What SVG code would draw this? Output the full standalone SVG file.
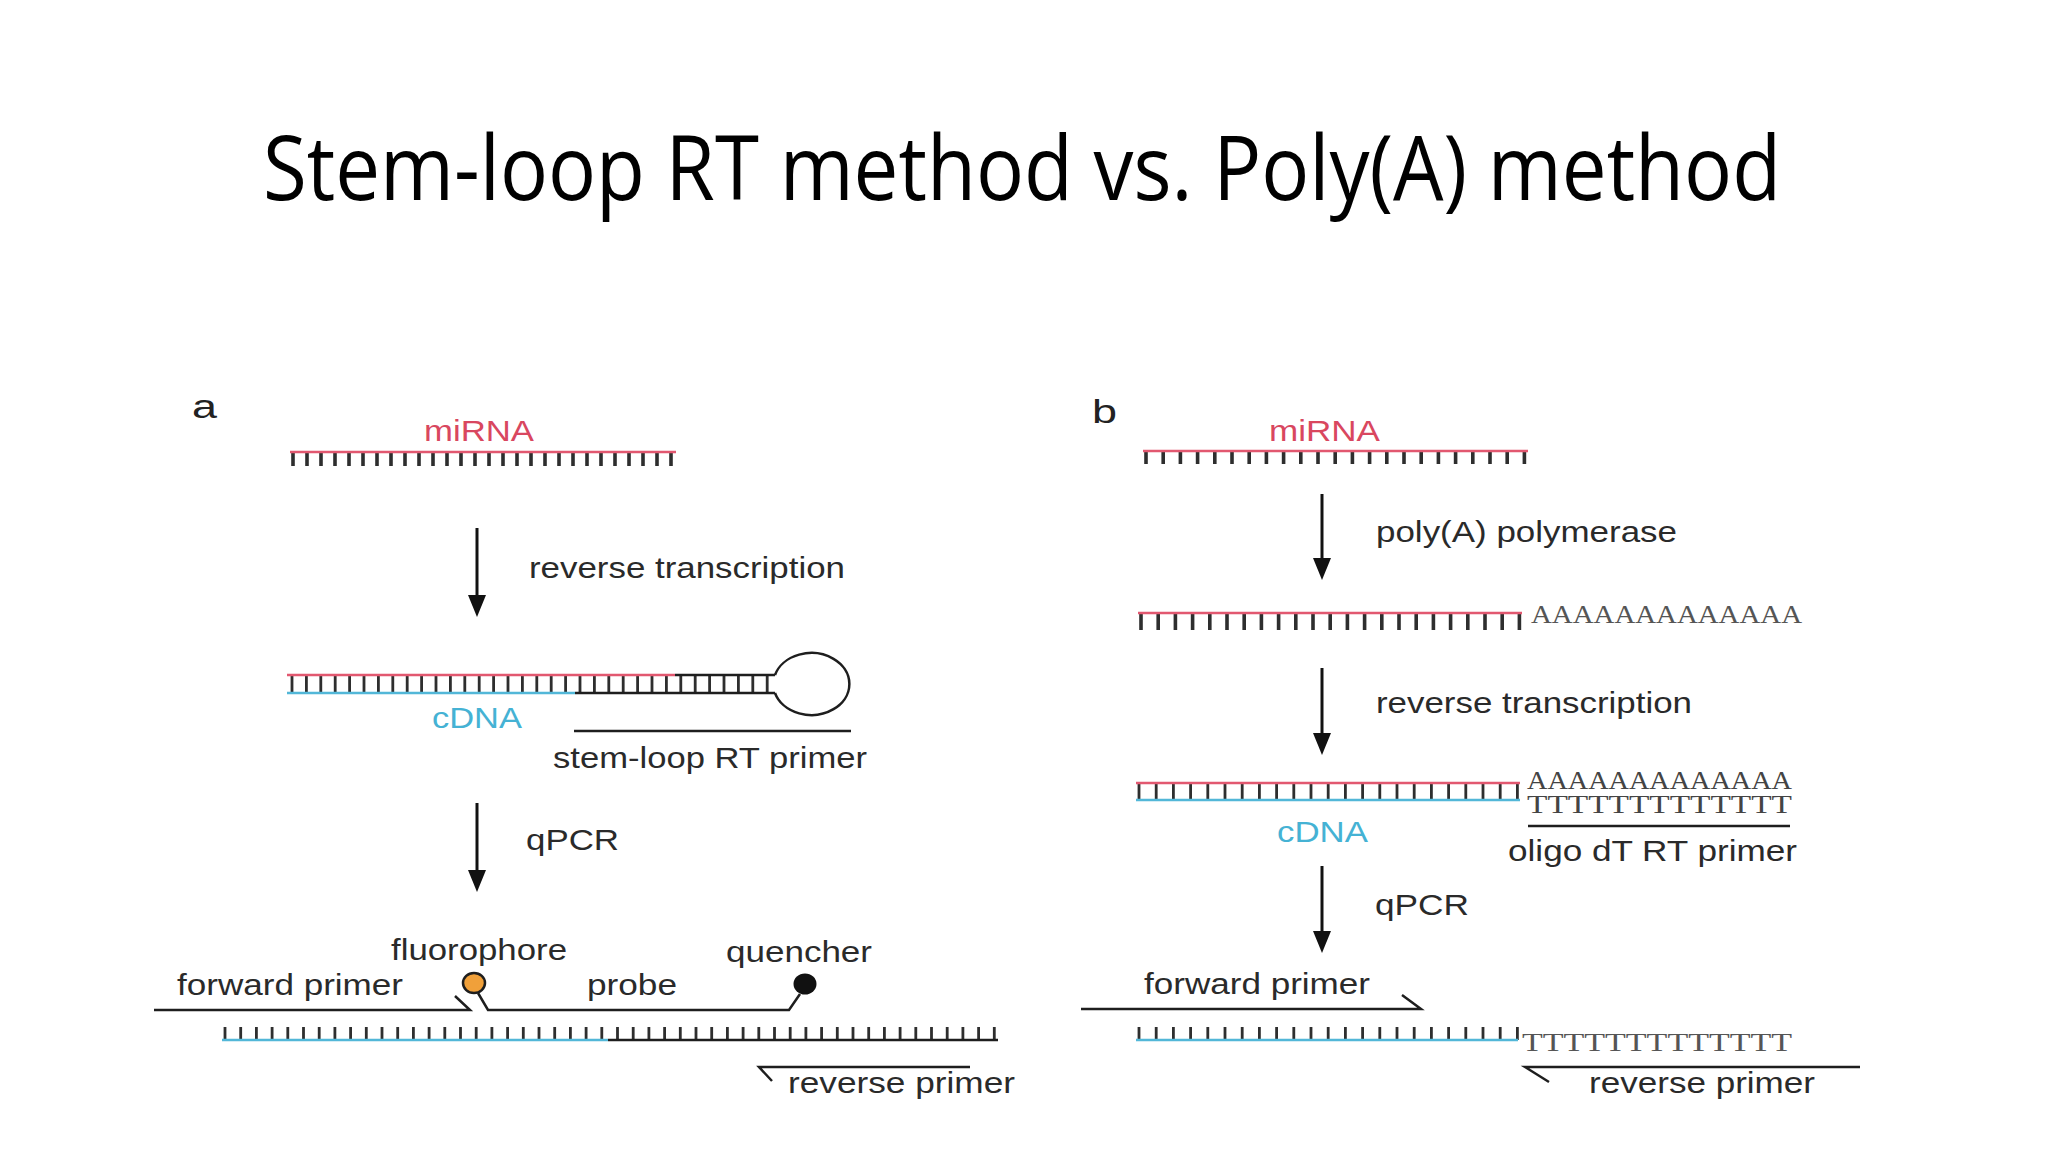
<svg xmlns="http://www.w3.org/2000/svg" xmlns:xlink="http://www.w3.org/1999/xlink" width="2048" height="1152" viewBox="0 0 2048 1152">
<style>
.t{font-family:"Liberation Sans",Arial,sans-serif;font-size:29px;fill:#2a2a2a}
.red{fill:#d9475f}
.cy{fill:#45b2d4}
.ser{font-family:"Liberation Serif","Times New Roman",serif;font-size:25px;fill:#555}
.lab{font-family:"Liberation Sans",Arial,sans-serif;font-size:34px;fill:#222}
.ln{stroke:#1e1e1e;stroke-width:2.5;fill:none}
.rl{stroke:#e25870;stroke-width:2.5;fill:none}
.cl{stroke:#52b7d8;stroke-width:2.5;fill:none}
.tk{stroke:#2e2e2e;stroke-width:3.6;fill:none}
.rg{stroke:#2e2e2e;stroke-width:2.8;fill:none}
.ar{stroke:#111;stroke-width:3;fill:none;marker-end:url(#ah)}
</style>
<defs>
<marker id="ah" viewBox="0 0 22 18" refX="12" refY="9" markerWidth="22" markerHeight="18" markerUnits="userSpaceOnUse" orient="auto">
<path d="M0 0L22 9L0 18z" fill="#111"/>
</marker>
<path id="r28" d="M0 0v1M14 0v1M28 0v1M42 0v1M56 0v1M70 0v1M84 0v1M98 0v1M112 0v1M126 0v1M140 0v1M154 0v1M168 0v1M182 0v1M196 0v1M210 0v1M224 0v1M238 0v1M252 0v1M266 0v1M280 0v1M294 0v1M308 0v1M322 0v1M336 0v1M350 0v1M364 0v1M378 0v1"/>
<path id="r34" d="M0 0v1M14.4 0v1M28.8 0v1M43.2 0v1M57.6 0v1M72 0v1M86.4 0v1M100.8 0v1M115.2 0v1M129.6 0v1M144 0v1M158.4 0v1M172.8 0v1M187.2 0v1M201.6 0v1M216 0v1M230.4 0v1M244.8 0v1M259.2 0v1M273.6 0v1M288 0v1M302.4 0v1M316.8 0v1M331.2 0v1M345.6 0v1M360 0v1M374.4 0v1M388.8 0v1M403.2 0v1M417.6 0v1M432 0v1M446.4 0v1M460.8 0v1M475.2 0v1"/>
<path id="r50" d="M0 0v1M15.7 0v1M31.4 0v1M47.1 0v1M62.8 0v1M78.5 0v1M94.2 0v1M109.9 0v1M125.6 0v1M141.3 0v1M157 0v1M172.7 0v1M188.4 0v1M204.1 0v1M219.8 0v1M235.5 0v1M251.2 0v1M266.9 0v1M282.6 0v1M298.3 0v1M314 0v1M329.7 0v1M345.4 0v1M361.1 0v1M376.8 0v1M392.5 0v1M408.2 0v1M423.9 0v1M439.6 0v1M455.3 0v1M471 0v1M486.7 0v1M502.4 0v1M518.1 0v1M533.8 0v1M549.5 0v1M565.2 0v1M580.9 0v1M596.6 0v1M612.3 0v1M628 0v1M643.7 0v1M659.4 0v1M675.1 0v1M690.8 0v1M706.5 0v1M722.2 0v1M737.9 0v1M753.6 0v1M769.3 0v1"/>
<path id="r23" d="M0 0v1M17.2 0v1M34.4 0v1M51.6 0v1M68.8 0v1M86 0v1M103.2 0v1M120.4 0v1M137.6 0v1M154.8 0v1M172 0v1M189.2 0v1M206.4 0v1M223.6 0v1M240.8 0v1M258 0v1M275.2 0v1M292.4 0v1M309.6 0v1M326.8 0v1M344 0v1M361.2 0v1M378.4 0v1"/>
</defs>
<rect width="2048" height="1152" fill="#ffffff"/>

<g id="title">
<text x="263" y="200" font-family="'Open Sans','Noto Sans',sans-serif" font-size="90" fill="#000" textLength="1518" lengthAdjust="spacingAndGlyphs">Stem-loop RT method vs. Poly(A) method</text>
</g>

<g id="panel-a-label"><text class="lab" x="192" y="418" textLength="25" lengthAdjust="spacingAndGlyphs">a</text></g>

<g id="a-mirna">
<text class="t red" x="424" y="441" textLength="110" lengthAdjust="spacingAndGlyphs">miRNA</text>
<use xlink:href="#r28" class="tk" transform="translate(293,452) scale(1,14)"/>
<path class="rl" d="M290 452H676"/>
</g>

<g id="a-duplex">
<use xlink:href="#r34" class="rg" transform="translate(292,675) scale(1,18)"/>
<path class="rl" d="M287 675H675"/>
<path class="ln" d="M675 675H775"/>
<path class="cl" d="M287 693H575"/>
<path class="ln" d="M575 693H775"/>
<path class="ln" d="M775 675A38 31 0 1 1 775 693"/>
<text class="t cy" x="432" y="728" textLength="90" lengthAdjust="spacingAndGlyphs">cDNA</text>
<path class="ln" d="M574 731H851"/>
<text class="t" x="553" y="768" textLength="314" lengthAdjust="spacingAndGlyphs">stem-loop RT primer</text>
</g>

<g id="a-qpcr">
<text class="t" x="391" y="960" textLength="176" lengthAdjust="spacingAndGlyphs">fluorophore</text>
<text class="t" x="726" y="962" textLength="146" lengthAdjust="spacingAndGlyphs">quencher</text>
<text class="t" x="177" y="995" textLength="226" lengthAdjust="spacingAndGlyphs">forward primer</text>
<text class="t" x="587" y="995" textLength="90" lengthAdjust="spacingAndGlyphs">probe</text>
<path class="ln" d="M154 1010H470L455 996"/>
<path class="ln" d="M478 993L488 1010H789L800 994"/>
<ellipse cx="474" cy="983" rx="11" ry="10" fill="#f0a03a" stroke="#1e1e1e" stroke-width="2.5"/>
<ellipse cx="805" cy="984" rx="11.5" ry="10.5" fill="#111"/>
<use xlink:href="#r50" class="rg" transform="translate(225,1027) scale(1,13)"/>
<path class="cl" d="M222 1040H608"/>
<path class="ln" d="M608 1040H998"/>
<path class="ln" d="M772 1081L759 1067H970"/>
<text class="t" x="788" y="1093" textLength="227" lengthAdjust="spacingAndGlyphs">reverse primer</text>
</g>

<g id="panel-b-label"><text class="lab" x="1092" y="423" textLength="25" lengthAdjust="spacingAndGlyphs">b</text></g>

<g id="b-mirna">
<text class="t red" x="1269" y="441" textLength="111" lengthAdjust="spacingAndGlyphs">miRNA</text>
<use xlink:href="#r23" class="tk" transform="translate(1146,451) scale(1,13)"/>
<path class="rl" d="M1143 451H1528"/>
</g>

<g id="b-polya">
<use xlink:href="#r23" class="tk" transform="translate(1141,613) scale(1,17)"/>
<path class="rl" d="M1138 613H1522"/>
<text class="ser" x="1531" y="623" textLength="271" lengthAdjust="spacingAndGlyphs">AAAAAAAAAAAAA</text>
</g>

<g id="b-duplex">
<use xlink:href="#r23" class="rg" transform="translate(1139,783) scale(1,17)"/>
<path class="rl" d="M1136 783H1520"/>
<path class="cl" d="M1136 800H1520"/>
<text class="ser" x="1527" y="789" style="fill:#444" textLength="265" lengthAdjust="spacingAndGlyphs">AAAAAAAAAAAAA</text>
<text class="ser" x="1527" y="813" style="fill:#444" textLength="265" lengthAdjust="spacingAndGlyphs">TTTTTTTTTTTTT</text>
<path class="ln" d="M1528 826H1790"/>
<text class="t cy" x="1277" y="842" textLength="91" lengthAdjust="spacingAndGlyphs">cDNA</text>
<text class="t" x="1508" y="861" textLength="289" lengthAdjust="spacingAndGlyphs">oligo dT RT primer</text>
</g>

<g id="b-qpcr">
<text class="t" x="1144" y="994" textLength="226" lengthAdjust="spacingAndGlyphs">forward primer</text>
<path class="ln" d="M1081 1009H1421L1402 995"/>
<use xlink:href="#r23" class="rg" transform="translate(1139,1027) scale(1,13)"/>
<path class="cl" d="M1136 1040H1518"/>
<text class="ser" x="1522" y="1051" textLength="270" lengthAdjust="spacingAndGlyphs">TTTTTTTTTTTTT</text>
<path class="ln" d="M1549 1082L1525 1067H1860"/>
<text class="t" x="1589" y="1093" textLength="226" lengthAdjust="spacingAndGlyphs">reverse primer</text>
</g>

<g id="connectors">
<path class="ar" d="M477 528V607"/>
<text class="t" x="529" y="578" textLength="316" lengthAdjust="spacingAndGlyphs">reverse transcription</text>
<path class="ar" d="M477 803V882"/>
<text class="t" x="526" y="850" textLength="93" lengthAdjust="spacingAndGlyphs">qPCR</text>
<path class="ar" d="M1322 494V570"/>
<text class="t" x="1376" y="542" textLength="301" lengthAdjust="spacingAndGlyphs">poly(A) polymerase</text>
<path class="ar" d="M1322 668V745"/>
<text class="t" x="1376" y="713" textLength="316" lengthAdjust="spacingAndGlyphs">reverse transcription</text>
<path class="ar" d="M1322 866V943"/>
<text class="t" x="1375" y="915" textLength="94" lengthAdjust="spacingAndGlyphs">qPCR</text>
</g>
</svg>
